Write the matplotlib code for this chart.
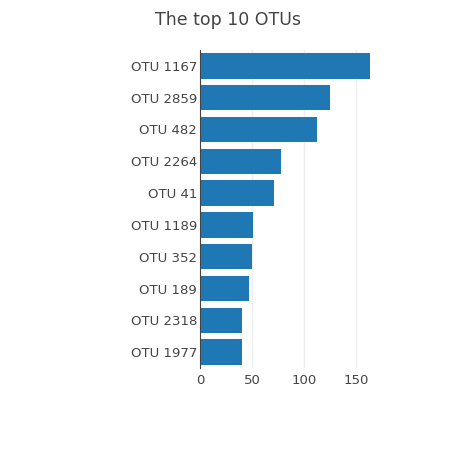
import matplotlib
matplotlib.use("Agg")
import matplotlib.pyplot as plt

# top 10 OTUs, largest first
otu_labels = ["OTU 1167", "OTU 2859", "OTU 482", "OTU 2264", "OTU 41",
              "OTU 1189", "OTU 352", "OTU 189", "OTU 2318", "OTU 1977"]
sample_values = [163, 125, 112, 78, 71, 51, 50, 47, 40, 40]

fig = plt.figure(figsize=(4.57, 4.5), dpi=100)
ax = fig.add_axes([200 / 457, 1 - 368 / 450, 170 / 457, 318 / 450])

# plotly-like: first item on top
y = list(range(len(otu_labels)))[::-1]
ax.barh(y, sample_values, height=0.8, color="#1f77b4", zorder=2)

ax.set_ylim(-0.5, len(otu_labels) - 0.5)
ax.set_xlim(0, max(sample_values) * 1.0)
ax.set_yticks(y)
ax.set_yticklabels(otu_labels)
ax.set_xticks([0, 50, 100, 150])

ax.grid(axis="x", color="#eeeeee", linewidth=1, zorder=0)
for side in ["top", "right", "bottom"]:
    ax.spines[side].set_visible(False)
ax.spines["left"].set_color("#444444")
ax.tick_params(axis="both", length=0, labelsize=9.5, colors="#444444", pad=2)
ax.tick_params(axis="x", pad=4)

fig.text(228 / 457, 1 - 20 / 450, "The top 10 OTUs", ha="center", va="center",
         fontsize=12.5, color="#444444")

fig.savefig("out.png", dpi=100)
